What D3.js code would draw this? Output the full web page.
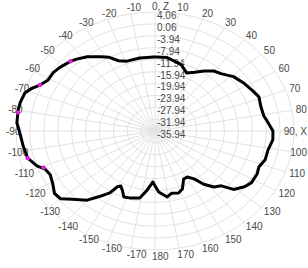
<!DOCTYPE html>
<html>
<head>
<meta charset="utf-8">
<script src="https://cdn.jsdelivr.net/npm/d3@7"></script>
<style>
  body { margin: 0; background: #fff; }
  text { font-family: Arial, "Liberation Sans", sans-serif; font-size: 10px; fill: #4a4a4a; }
</style>
</head>
<body>
<svg id="chart" width="308" height="268"></svg>
<script>
// pattern samples, going clockwise from 0 deg (Z)
var angles = [1, 8, 16, 19, 25, 30, 35, 40, 45, 51, 58, 64, 69, 75, 81, 84, 90, 95, 101, 107,
  112, 116, 122, 126, 131, 134, 138, 142, 145, 149, 153, 158, 162, 167, 171, 177, 181,
  -178, -173, -169, -162, -158, -155, -152, -150, -148, -144, -140, -134, -130, -126, -121,
  -116, -112, -109, -104, -98, -93, -86, -80, -76, -71, -68, -65, -61, -56, -52, -46, -43,
  -38, -32, -28, -24, -19, -10, -1];
var gain = [-11.1, -11.0, -12.1, -12.5, -14.4, -13.1, -11.3, -9.6, -8.8, -6.9, -5.7, -4.8, -3.9, -4.4, -4.2, -3.5, -2.0, -1.9, -2.8, -2.8,
  -3.7, -3.2, -3.2, -4.1, -6.0, -9.4, -10.6, -13.2, -16.3, -17.9, -17.8, -14.9, -14.0, -14.5, -13.5, -15.4, -18.1,
  -18.8, -15.6, -13.0, -12.3, -12.0, -13.8, -15.0, -14.3, -11.4, -8.7, -5.6, -2.9, -0.5, -0.2, -1.6,
  -2.4, -1.8, 0.0, 1.8, 2.3, 2.7, 3.9, 4.06, 4.0, 3.6, 2.3, 0.6, -0.7, -0.7, -1.2, -2.2, -2.9,
  -4.3, -6.5, -7.9, -10.1, -11.1, -11.0, -11.1];

// highlighted samples
var markAngles = [-46, -65, -81, -104, -111];
var markGain = [-2.2, 0.6, 4.06, 1.8, -1.6];

var ringValues = [4.06, 0.06, -3.94, -7.94, -11.94, -15.94, -19.94, -23.94, -27.94, -31.94, -35.94];
var spokeAngles = d3.range(-170, 190, 10);
function angleLabel(a) {
  if (a === 0) return "0, Z";
  if (a === 90) return "90, X";
  return String(a);
}

var svg = d3.select("#chart");
var cx = 155, cy = 131, Rx = 139, Ry = 119;

var r = d3.scaleLinear().domain([-35.94, 4.06]).range([0, 1]);
var rad = d3.scaleLinear().domain([0, 360]).range([0, 2 * Math.PI]);

function px(a, v) { return cx + Rx * r(v) * Math.sin(rad(a)); }
function py(a, v) { return cy - Ry * r(v) * Math.cos(rad(a)); }

var grid = svg.append("g");

grid.selectAll("ellipse")
  .data(ringValues.slice(0, -1))
  .enter().append("ellipse")
  .attr("cx", cx).attr("cy", cy)
  .attr("rx", function(d){ return Rx * r(d); })
  .attr("ry", function(d){ return Ry * r(d); })
  .attr("fill", "none")
  .attr("stroke", "#e2e2e2")
  .attr("stroke-width", 1);

grid.selectAll("line")
  .data(spokeAngles)
  .enter().append("line")
  .attr("x1", cx).attr("y1", cy)
  .attr("x2", function(d){ return px(d, 4.06); })
  .attr("y2", function(d){ return py(d, 4.06); })
  .attr("stroke", "#e2e2e2")
  .attr("stroke-width", 1);

// ring labels along the Z axis
svg.selectAll("text.ring")
  .data(ringValues)
  .enter().append("text")
  .attr("class", "ring")
  .attr("x", cx + 2)
  .attr("y", function(d){ return cy - Ry * r(d) + 7; })
  .text(function(d){ return d.toFixed(2); });

// angle labels, pushed back inside the picture on the right
svg.selectAll("text.ang")
  .data(spokeAngles)
  .enter().append("text")
  .attr("class", "ang")
  .attr("x", function(d){ return cx - 3 + 146 * Math.sin(rad(d)); })
  .attr("y", function(d){ return cy - 125 * Math.cos(rad(d)); })
  .attr("dy", "0.35em")
  .text(angleLabel)
  .each(function(){
    var t = d3.select(this), w = this.getComputedTextLength(), x = +t.attr("x");
    if (x + w > 307) t.attr("x", 307 - w);
    if (x < 6) t.attr("x", 6);
  });

var pts = angles.map(function(a, i){ return [px(a, gain[i]), py(a, gain[i])]; });

svg.append("path")
  .attr("d", d3.line().curve(d3.curveLinearClosed)(pts))
  .attr("fill", "none")
  .attr("stroke", "#000")
  .attr("stroke-width", 3)
  .attr("stroke-linejoin", "round");

svg.selectAll("circle")
  .data(markAngles)
  .enter().append("circle")
  .attr("cx", function(d, i){ return px(d, markGain[i]); })
  .attr("cy", function(d, i){ return py(d, markGain[i]); })
  .attr("r", 2.2)
  .attr("fill", "#e020e0");
</script>
</body>
</html>
